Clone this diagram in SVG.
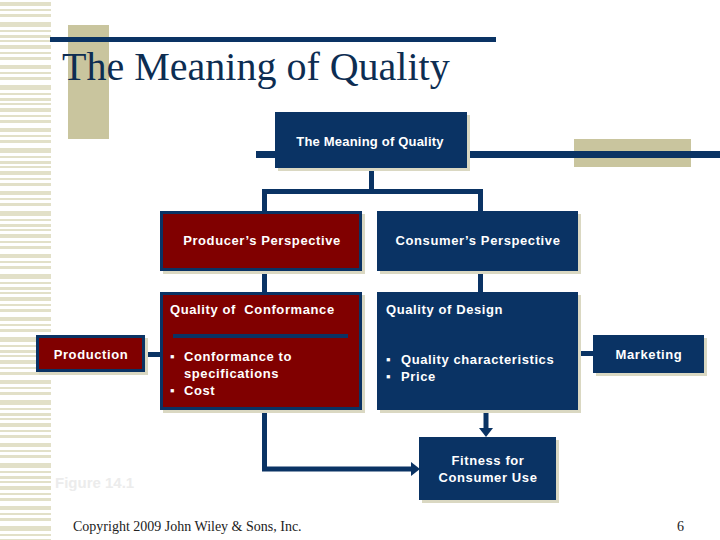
<svg xmlns="http://www.w3.org/2000/svg" width="720" height="540" viewBox="0 0 720 540">
  <defs>
    <pattern id="stripes" x="0" y="0" width="51" height="63" patternUnits="userSpaceOnUse">
      <rect x="0" y="2" width="51" height="4"/>
      <rect x="0" y="9" width="51" height="2"/>
      <rect x="0" y="14" width="51" height="3"/>
      <rect x="0" y="22" width="51" height="5"/>
      <rect x="0" y="30" width="51" height="2"/>
      <rect x="0" y="35" width="51" height="3"/>
      <rect x="0" y="40" width="51" height="2"/>
      <rect x="0" y="45" width="51" height="4"/>
      <rect x="0" y="52" width="51" height="2"/>
      <rect x="0" y="57" width="51" height="3"/>
    </pattern>
    <marker id="arrow" viewBox="0 0 9 14" refX="0" refY="7" markerWidth="9" markerHeight="14" markerUnits="userSpaceOnUse" orient="auto">
      <path d="M0,0 L9,7 L0,14 Z" fill="#0a3364"/>
    </marker>
  </defs>
  <style>
    #stripes rect { fill: #e2e0c8; }
    .shadow { fill: #dad8c2; }
    .navy { fill: #0a3364; }
    .red { fill: #800000; stroke: #0a3364; stroke-width: 3; }
    .blue { fill: #0a3364; stroke: #0a3364; stroke-width: 3; }
    .lbl { font-family: "Liberation Sans", Arial, sans-serif; font-weight: bold; font-size: 13px; fill: #ffffff; letter-spacing: 0.6px; }
    .conn { fill: none; stroke: #0a3364; stroke-width: 5; }
  </style>

  <rect x="0" y="0" width="51" height="540" fill="url(#stripes)"/>

  <!-- title decoration -->
  <rect x="68" y="25" width="41" height="114" fill="#c9c59e"/>
  <rect x="50" y="37" width="446" height="5" class="navy"/>
  <text x="62" y="80" font-family="'Liberation Serif', 'Times New Roman', serif" font-size="40" fill="#0d2d52">The Meaning of Quality</text>

  <!-- top box decoration bars -->
  <rect x="574" y="139" width="117" height="28" fill="#c9c59e"/>
  <rect x="256" y="151" width="20" height="7" class="navy"/>
  <rect x="466" y="151" width="254" height="7" class="navy"/>

  <g id="connectors">
    <path class="conn" d="M371.5,168 V191.5 H264.5 V213 M371.5,191.5 H480.5 V213"/>
    <path class="conn" d="M264.5,271 V294 M480.5,271 V294"/>
    <path class="conn" d="M145,354.5 H162 M578,353.5 H595"/>
    <path class="conn" d="M486,410 V428" marker-end="url(#arrow)"/>
    <path class="conn" d="M264.5,410 V469 H411" marker-end="url(#arrow)"/>
  </g>

  <g id="node-top">
    <rect class="shadow" x="278" y="115" width="192" height="56"/>
    <rect class="navy" x="275" y="112" width="192" height="56"/>
    <text class="lbl" x="370" y="146" text-anchor="middle" style="letter-spacing:0.2px">The Meaning of Quality</text>
  </g>

  <g id="node-producer">
    <rect class="shadow" x="163" y="214" width="202" height="60"/>
    <rect class="red" x="161.5" y="212.5" width="199" height="57"/>
    <text class="lbl" x="262" y="245" text-anchor="middle">Producer’s Perspective</text>
  </g>

  <g id="node-consumer">
    <rect class="shadow" x="380" y="214" width="201" height="60"/>
    <rect class="blue" x="378.5" y="212.5" width="198" height="57"/>
    <text class="lbl" x="478" y="245" text-anchor="middle">Consumer’s Perspective</text>
  </g>

  <g id="node-conformance">
    <rect class="shadow" x="163" y="295" width="202" height="118"/>
    <rect class="red" x="161.5" y="293.5" width="199" height="115"/>
    <text class="lbl" x="170" y="314" style="white-space:pre">Quality of  Conformance</text>
    <rect class="navy" x="173" y="334" width="175" height="4"/>
    <text class="lbl" x="170" y="361">▪</text>
    <text class="lbl" x="184" y="361">Conformance to</text>
    <text class="lbl" x="184" y="378">specifications</text>
    <text class="lbl" x="170" y="395">▪</text>
    <text class="lbl" x="184" y="395">Cost</text>
  </g>

  <g id="node-design">
    <rect class="shadow" x="380" y="295" width="201" height="118"/>
    <rect class="blue" x="378.5" y="293.5" width="198" height="115"/>
    <text class="lbl" x="386" y="314">Quality of Design</text>
    <text class="lbl" x="386" y="364">▪</text>
    <text class="lbl" x="401" y="364">Quality characteristics</text>
    <text class="lbl" x="386" y="381">▪</text>
    <text class="lbl" x="401" y="381">Price</text>
  </g>

  <g id="node-production">
    <rect class="shadow" x="39" y="338" width="109" height="37"/>
    <rect class="red" x="37.5" y="336.5" width="106" height="34"/>
    <text class="lbl" x="91" y="359" text-anchor="middle">Production</text>
  </g>

  <g id="node-marketing">
    <rect class="shadow" x="596" y="338" width="111" height="38"/>
    <rect class="navy" x="593" y="335" width="111" height="38"/>
    <text class="lbl" x="649" y="359" text-anchor="middle">Marketing</text>
  </g>

  <g id="node-fitness">
    <rect class="shadow" x="422" y="440" width="137" height="63"/>
    <rect class="navy" x="419" y="437" width="137" height="63"/>
    <text class="lbl" x="488" y="465" text-anchor="middle">Fitness for</text>
    <text class="lbl" x="488" y="482" text-anchor="middle">Consumer Use</text>
  </g>

  <text x="55" y="488" font-family="'Liberation Sans', Arial, sans-serif" font-weight="bold" font-size="15" fill="#ececec">Figure 14.1</text>
  <text x="73" y="531" font-family="'Liberation Serif', 'Times New Roman', serif" font-size="14" fill="#222222">Copyright 2009 John Wiley &amp; Sons, Inc.</text>
  <text x="677" y="531" font-family="'Liberation Serif', 'Times New Roman', serif" font-size="14" fill="#222222">6</text>
</svg>
